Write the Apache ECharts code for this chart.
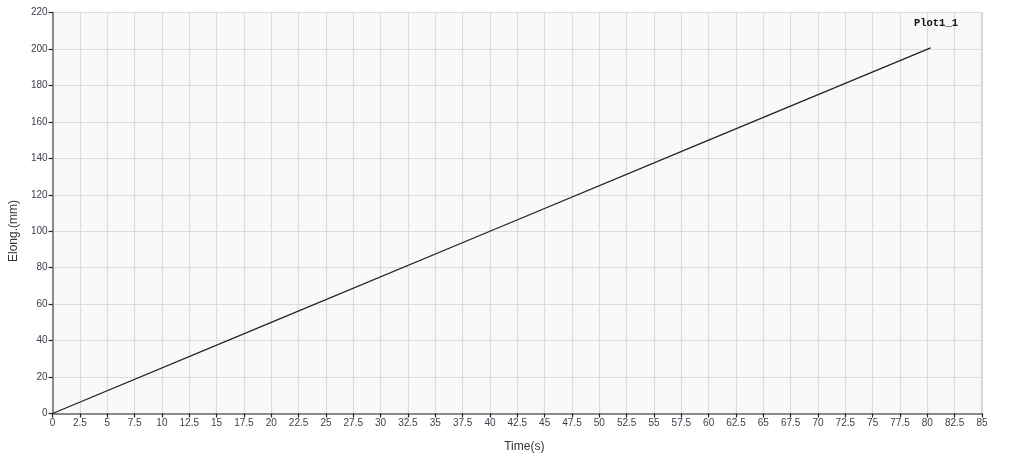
<!DOCTYPE html>
<html><head><meta charset="utf-8">
<script src="https://cdn.jsdelivr.net/npm/echarts@6/dist/echarts.min.js"></script>
<style>html,body{margin:0;padding:0;background:#fff}#c{width:1024px;height:461px}</style>
</head><body><div id="c"></div>
<script>
const timeS = [0, 20, 40, 60, 80.3];
const elongMm = [0, 50, 100, 150, 200.6];
const xTicks = {min: 0, max: 85, interval: 2.5};
const yTicks = {min: 0, max: 220, interval: 20};
const seriesName = 'Plot1_1';

const chart = echarts.init(document.getElementById('c'));
const lbl = {color: '#3a3f4a', fontSize: 10, fontFamily: 'Liberation Sans'};
chart.setOption({
  animation: false,
  backgroundColor: '#fff',
  grid: {left: 51.5, right: 42, top: 12.5, bottom: 47.5, show: true, backgroundColor: '#f9f9f9', borderColor: '#a8a8a8', borderWidth: 1},
  legend: {
    data: [seriesName], right: 61, top: 11, icon: 'none', itemWidth: 0, itemGap: 0,
    textStyle: {fontFamily: 'Liberation Mono', fontSize: 10.5, color: '#111', fontWeight: 'bold'}
  },
  xAxis: {
    type: 'value', min: xTicks.min, max: xTicks.max, interval: xTicks.interval,
    name: 'Time(s)', nameLocation: 'middle', nameGap: 27,
    nameTextStyle: {fontSize: 12, color: '#333', fontFamily: 'Liberation Sans', padding: [0,0,0,14]},
    axisLine: {onZero: false, lineStyle: {color: '#8a8a8a', width: 2}},
    axisTick: {length: 4, lineStyle: {color: '#222', width: 1.2}},
    axisLabel: Object.assign({margin: 5}, lbl),
    splitLine: {lineStyle: {color: '#dcdcdc', width: 1.2}}
  },
  yAxis: {
    type: 'value', min: yTicks.min, max: yTicks.max, interval: yTicks.interval,
    name: 'Elong.(mm)', nameLocation: 'middle', nameGap: 28,
    nameTextStyle: {fontSize: 12, color: '#333', fontFamily: 'Liberation Sans', padding: [0,36,0,0]},
    axisLine: {show: true, onZero: false, lineStyle: {color: '#8a8a8a', width: 2}},
    axisTick: {show: true, length: 4, lineStyle: {color: '#222', width: 1.2}},
    axisLabel: Object.assign({margin: 5}, lbl),
    splitLine: {lineStyle: {color: '#dcdcdc', width: 1.2}}
  },
  series: [{
    name: seriesName, type: 'line', showSymbol: false, symbol: 'none',
    data: timeS.map((t, i) => [t, elongMm[i]]),
    lineStyle: {color: '#222', width: 1.3}, itemStyle: {color: '#222'}
  }]
});
</script></body></html>
